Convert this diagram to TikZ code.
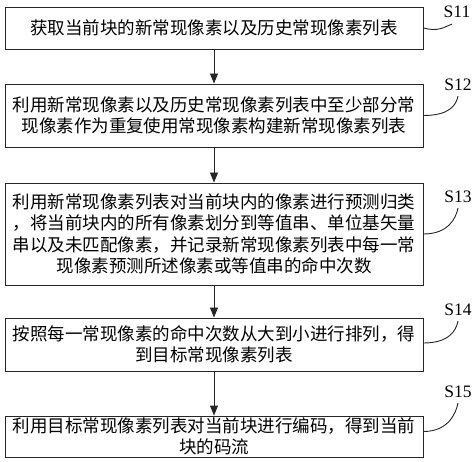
\documentclass[tikz,border=0pt]{standalone}
\usepackage{fontspec}
\setmainfont{Liberation Serif}
\newfontfamily\cjk{Noto Sans CJK SC}
\usetikzlibrary{arrows.meta}
\begin{document}
\begin{tikzpicture}[x=1pt,y=-1pt,
  box/.style={draw=black!85, line width=0.9pt, minimum width=418pt, align=center, inner sep=0pt,
    font=\cjk\fontsize{17.5}{21.5}\selectfont},
  flow/.style={draw=black!85, -{Triangle[length=10pt,width=8pt]}, line width=0.9pt},
  tag/.style={font=\fontsize{17.5}{17.5}\selectfont, inner sep=1pt},
  hook/.style={draw=black!85, line width=0.9pt}]
\useasboundingbox (0,0) rectangle (474,462);
\node[box, minimum height=42pt] (b1) at (214,28) {获取当前块的新常现像素以及历史常现像素列表};
\node[box, minimum height=63pt] (b2) at (214,115.5) {利用新常现像素以及历史常现像素列表中至少部分常\\现像素作为重复使用常现像素构建新常现像素列表};
\node[box, minimum height=102pt] (b3) at (214,234) {利用新常现像素列表对当前块内的像素进行预测归类\\，将当前块内的所有像素划分到等值串、单位基矢量\\串以及未匹配像素，并记录新常现像素列表中每一常\\现像素预测所述像素或等值串的命中次数};
\node[box, minimum height=53pt] (b4) at (214,344.5) {按照每一常现像素的命中次数从大到小进行排列，得\\到目标常现像素列表};
\node[box, minimum height=41pt] (b5) at (214,436.5) {利用目标常现像素列表对当前块进行编码，得到当前\\块的码流};
\draw[flow] (b1) -- (b2);
\draw[flow] (b2) -- (b3);
\draw[flow] (b3) -- (b4);
\draw[flow] (b4) -- (b5);
\node[tag] (s1) at (457,12) {S11};
\node[tag] (s2) at (458,85) {S12};
\node[tag] (s3) at (458,197) {S13};
\node[tag] (s4) at (458,310) {S14};
\node[tag] (s5) at (458,392) {S15};
\draw[hook] (b1.east) .. controls +(15,4) and +(-8,3) .. ([xshift=-5pt,yshift=-5pt]s1.south);
\draw[hook] (b2.east) .. controls +(25,0) and +(-2,10) .. ([yshift=-4pt]s2.south);
\draw[hook] (b3.east) .. controls +(25,0) and +(-2,10) .. ([yshift=-4pt]s3.south);
\draw[hook] ([yshift=1.5pt]b4.east) .. controls +(25,0) and +(-2,10) .. ([yshift=-4pt]s4.south);
\draw[hook] ([yshift=5pt]b5.east) .. controls +(25,0) and +(-2,10) .. ([yshift=-4pt]s5.south);
\end{tikzpicture}
\end{document}
